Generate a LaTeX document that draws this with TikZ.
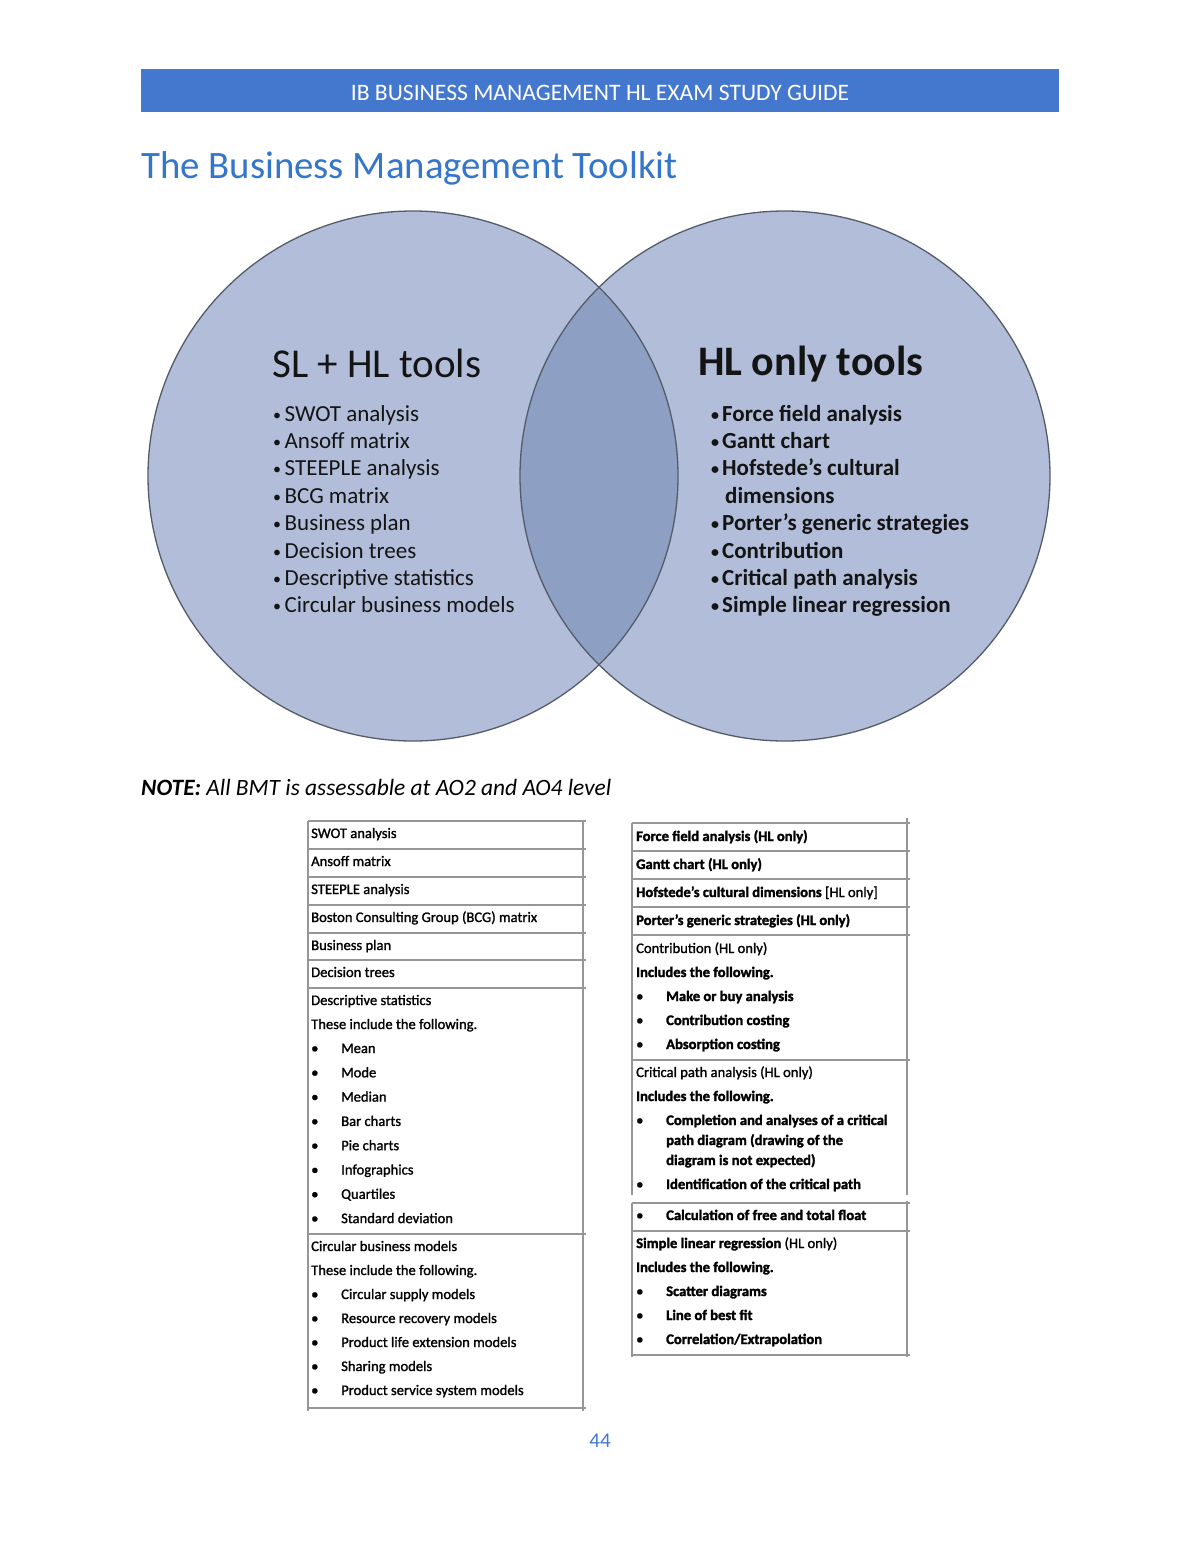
\documentclass[tikz,border=0pt]{standalone}
\usepackage{fontspec}
\setmainfont{Carlito}
\newfontfamily\tabfont{Carlito}[UprightFeatures={FakeBold=1.3},BoldFeatures={FakeBold=1.8}]
\newcommand\myfs[1]{\fontsize{#1pt}{#1pt}\selectfont}
\definecolor{hdrblue}{RGB}{68,119,206}
\definecolor{titleblue}{RGB}{52,118,204}
\definecolor{vlight}{RGB}{177,189,217}
\definecolor{vdark}{RGB}{141,159,194}
\definecolor{vedge}{RGB}{85,92,105}
\definecolor{rulegray}{RGB}{150,150,150}
\definecolor{inkblack}{RGB}{20,20,20}
\begin{document}
\begin{tikzpicture}[x=1pt,y=-1pt,
  txt/.style={inner sep=0pt, anchor=base west},
  bigtxt/.style={txt, font={\myfs{41}}, text=inkblack},
  itemtxt/.style={txt, font={\myfs{23}}, text=inkblack},
  cell/.style={txt, font={\tabfont\myfs{14.6}}, text=black},
  bcell/.style={txt, font={\tabfont\myfs{14.6}\bfseries}, text=black},
  tabrule/.style={draw=rulegray, line width=1.2pt},
  vennedge/.style={draw=vedge, line width=1.3pt}]
\useasboundingbox[fill=white] (0,0) rectangle (1200,1553);

% header
\fill[hdrblue] (141,69) rectangle (1059,112);
\node[inner sep=0pt, anchor=base, text=white, font={\myfs{23.6}}] (hdr) at (600,100) {IB BUSINESS MANAGEMENT HL EXAM STUDY GUIDE};
\node[txt, text=titleblue, font={\myfs{38.8}}] (title) at (141,178) {The Business Management Toolkit};

% venn
\fill[vlight] (413,476) circle (265pt);
\fill[vlight] (785,476) circle (265pt);
\begin{scope}
  \clip (413,476) circle (265pt);
  \fill[vdark] (785,476) circle (265pt);
\end{scope}
\draw[vennedge] (413,476) circle (265pt);
\draw[vennedge] (785,476) circle (265pt);

\node[bigtxt] (sltitle) at (272,377) {SL + HL tools};
\foreach \i/\t in {0/SWOT analysis,1/Ansoff matrix,2/STEEPLE analysis,3/BCG matrix,4/Business plan,5/Decision trees,6/Descriptive statistics,7/Circular business models}{
  \node[itemtxt] (sl\i) at (273,421+27.4*\i) {\myfs{16}\raisebox{1pt}{•}\hspace{3.5pt}\myfs{23}\t};
}
\node[bigtxt, font={\myfs{42}\bfseries}] (hltitle) at (698,375) {HL only tools};
\foreach \i/\t in {0/Force field analysis,1/Gantt chart,2/Hofstede’s cultural,4/Porter’s generic strategies,5/Contribution,6/Critical path analysis,7/Simple linear regression}{
  \node[itemtxt, font={\myfs{23}\bfseries}] (hl\i) at (711,421+27.4*\i) {\myfs{16}\raisebox{1pt}{•}\hspace{3pt}\myfs{23}\t};
}
\node[itemtxt, font={\myfs{23}\bfseries}] (hl3) at (725,503.2) {dimensions};

% note
\node[txt, font={\myfs{23.4}\itshape}] (note) at (141,795) {\textbf{NOTE:} All BMT is assessable at AO2 and AO4 level};

% left table
\foreach \y in {821,849,877,905,933,960,988,1234,1408}
  \draw[tabrule] (308,\y) -- (586,\y);
\draw[tabrule] (308,821) -- (308,1411);
\draw[tabrule] (583,821) -- (583,1411);

\node[cell] (lt1) at (311,838) {SWOT analysis};
\node[cell] (lt2) at (311,866) {Ansoff matrix};
\node[cell] (lt3) at (311,894) {STEEPLE analysis};
\node[cell] (lt4) at (311,922) {Boston Consulting Group (BCG) matrix};
\node[cell] (lt5) at (311,950) {Business plan};
\node[cell] (lt6) at (311,977) {Decision trees};
\node[cell] (lt7) at (311,1005) {Descriptive statistics};
\node[cell] (lt8) at (311,1029) {These include the following.};
\foreach \i/\t in {0/Mean,1/Mode,2/Median,3/Bar charts,4/Pie charts,5/Infographics,6/Quartiles,7/Standard deviation}{
  \node[cell] (ltb\i) at (311,1053+24.3*\i) {•};
  \node[cell] (lti\i) at (341,1053+24.3*\i) {\t};
}
\node[cell] (lt9) at (311,1251) {Circular business models};
\node[cell] (lt10) at (311,1275) {These include the following.};
\foreach \i/\t in {0/Circular supply models,1/Resource recovery models,2/Product life extension models,3/Sharing models,4/Product service system models}{
  \node[cell] (lcb\i) at (311,1299+24*\i) {•};
  \node[cell] (lci\i) at (341,1299+24*\i) {\t};
}

% right table, upper part
\foreach \y in {823,851,879,907,935,1060}
  \draw[tabrule] (632,\y) -- (910,\y);
\draw[tabrule] (632,823) -- (632,1195);
\draw[tabrule] (907,818) -- (907,1195);
% right table, lower part
\foreach \y in {1203,1231,1355}
  \draw[tabrule] (632,\y) -- (910,\y);
\draw[tabrule] (632,1203) -- (632,1357);
\draw[tabrule] (907,1201) -- (907,1357);

\node[bcell] (rt1) at (636,841) {Force field analysis (HL only)};
\node[bcell] (rt2) at (636,869) {Gantt chart (HL only)};
\node[bcell] (rt3) at (636,897) {Hofstede’s cultural dimensions \mdseries[HL only]};
\node[bcell] (rt4) at (636,925) {Porter’s generic strategies (HL only)};
\node[cell] (rt5) at (636,953) {Contribution (HL only)};
\node[bcell] (rt6) at (636,977) {Includes the following.};
\foreach \i/\t in {0/Make or buy analysis,1/Contribution costing,2/Absorption costing}{
  \node[cell] (rcb\i) at (636,1001+24*\i) {•};
  \node[bcell] (rci\i) at (666,1001+24*\i) {\t};
}
\node[cell] (rt7) at (636,1077) {Critical path analysis (HL only)};
\node[bcell] (rt8) at (636,1101) {Includes the following.};
\node[cell] (rpb0) at (636,1125) {•};
\node[bcell] (rpi0) at (666,1125) {Completion and analyses of a critical};
\node[bcell] (rpi0b) at (666,1145) {path diagram (drawing of the};
\node[bcell] (rpi0c) at (666,1165) {diagram is not expected)};
\node[cell] (rpb1) at (636,1189) {•};
\node[bcell] (rpi1) at (666,1189) {Identification of the critical path};
\node[cell] (rpb2) at (636,1220) {•};
\node[bcell] (rpi2) at (666,1220) {Calculation of free and total float};
\node[bcell] (rt9) at (636,1248) {Simple linear regression \mdseries(HL only)};
\node[bcell] (rt10) at (636,1272) {Includes the following.};
\foreach \i/\t in {0/Scatter diagrams,1/Line of best fit,2/{Correlation/Extrapolation}}{
  \node[cell] (rsb\i) at (636,1296+24*\i) {•};
  \node[bcell] (rsi\i) at (666,1296+24*\i) {\t};
}

% page number
\node[inner sep=0pt, anchor=base, text=hdrblue, font={\myfs{21}}] (pagenum) at (600,1447) {44};
\end{tikzpicture}
\end{document}
